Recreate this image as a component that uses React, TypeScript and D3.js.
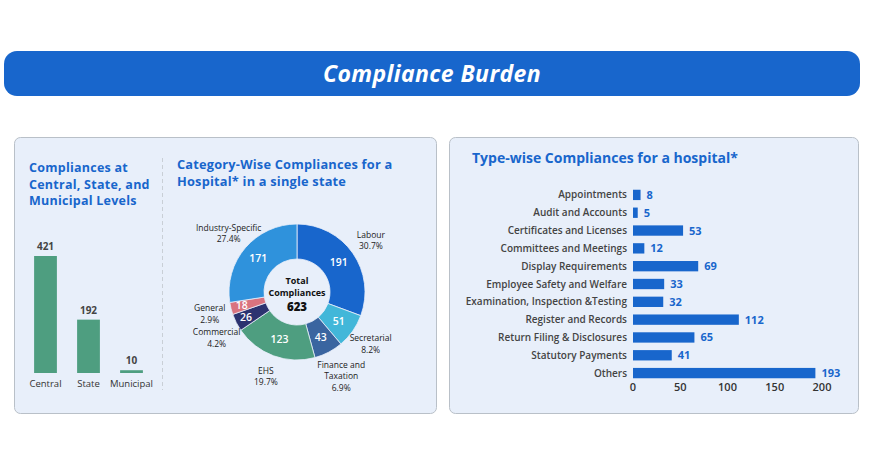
import * as d3 from "d3";

// level-wise counts
const levels = ["Central", "State", "Municipal"];
const levelCounts = [421, 192, 10];

// category-wise split for a hospital in one state
const categories = [
  "Labour",
  "Secretarial",
  "Finance and Taxation",
  "EHS",
  "Commercial",
  "General",
  "Industry-Specific",
];
const categoryCounts = [191, 51, 43, 123, 26, 18, 171];
const categoryLabelLines = [
  ["Labour"],
  ["Secretarial"],
  ["Finance and", "Taxation"],
  ["EHS"],
  ["Commercial"],
  ["General"],
  ["Industry-Specific"],
];
const categoryColors = [
  "#1866CC",
  "#42B7D9",
  "#3A65A0",
  "#4E9E80",
  "#2C3370",
  "#D9737F",
  "#2F92DC",
];

// type-wise counts
const types = [
  "Appointments",
  "Audit and Accounts",
  "Certificates and Licenses",
  "Committees and Meetings",
  "Display Requirements",
  "Employee Safety and Welfare",
  "Examination, Inspection &Testing",
  "Register and Records",
  "Return Filing & Disclosures",
  "Statutory Payments",
  "Others",
];
const typeCounts = [8, 5, 53, 12, 69, 33, 32, 112, 65, 41, 193];
const typeTicks = [0, 50, 100, 150, 200];

const W = 874;
const H = 476;
const FONT = "'Open Sans', 'DejaVu Sans', sans-serif";
const BLUE = "#1866CC";
const PANEL = "#E8EFFA";

function LevelBars() {
  const x = d3
    .scaleBand<string>()
    .domain(levels)
    .range([24, 153])
    .paddingInner(0.47)
    .paddingOuter(0.235);
  const y = d3.scaleLinear().domain([0, 421]).range([373, 256]);
  return (
    <g>
      <text fill={BLUE} fontSize={12.5} fontWeight={700} letterSpacing={0.25}>
        {["Compliances at", "Central, State, and", "Municipal Levels"].map((t, i) => (
          <tspan key={t} x={29} y={172 + i * 16.5}>
            {t}
          </tspan>
        ))}
      </text>
      {levels.map((l, i) => (
        <g key={l}>
          <rect
            x={x(l)}
            y={y(levelCounts[i])}
            width={x.bandwidth()}
            height={y(0) - y(levelCounts[i])}
            fill="#4E9E80"
          />
          <text
            x={x(l)! + x.bandwidth() / 2}
            y={y(levelCounts[i]) - 6}
            textAnchor="middle"
            fontSize={10}
            fontWeight={700}
            fill="#444"
          >
            {levelCounts[i]}
          </text>
          <text
            x={x(l)! + x.bandwidth() / 2}
            y={387}
            textAnchor="middle"
            fontSize={9.5}
            fontWeight={500}
            fill="#333"
          >
            {l}
          </text>
        </g>
      ))}
      <line x1={162.5} x2={162.5} y1={158} y2={390} stroke="#C9CFD6" strokeDasharray="4,3" />
    </g>
  );
}

function CategoryDonut() {
  const cx = 297;
  const cy = 292;
  const total = d3.sum(categoryCounts);
  const pie = d3.pie<number>().sort(null).value((d) => d);
  const arcs = pie(categoryCounts);
  const arc = d3.arc<d3.PieArcDatum<number>>().innerRadius(33).outerRadius(68);
  const lineH = 11.5;

  // outside labels along each slice's mid angle, then pushed apart on each side
  const labels = arcs.map((a, i) => {
    const mid = (a.startAngle + a.endAngle) / 2;
    const lines = [...categoryLabelLines[i], ((categoryCounts[i] / total) * 100).toFixed(1) + "%"];
    const r = 90 + (lines.length - 2) * 5;
    return {
      lines,
      x: Math.sin(mid) * r,
      cy: -Math.cos(mid) * r,
      h: lines.length * lineH,
      left: Math.sin(mid) < 0,
    };
  });
  [true, false].forEach((side) => {
    const group = labels.filter((l) => l.left === side).sort((a, b) => a.cy - b.cy);
    for (let k = 1; k < group.length; k++) {
      const prev = group[k - 1];
      const cur = group[k];
      const minGap = (prev.h + cur.h) / 2 + 1;
      if (cur.cy - prev.cy < minGap) cur.cy = prev.cy + minGap;
    }
  });

  // small slices get their value a little further out
  const valuePos = (a: d3.PieArcDatum<number>) => {
    const share = (a.endAngle - a.startAngle) / (2 * Math.PI);
    const r = share < 0.05 ? 57 : 51;
    const mid = (a.startAngle + a.endAngle) / 2;
    return [Math.sin(mid) * r, -Math.cos(mid) * r];
  };

  return (
    <g>
      <text fill={BLUE} fontSize={12.8} fontWeight={700} letterSpacing={0.2}>
        {["Category-Wise Compliances for a", "Hospital* in a single state"].map((t, i) => (
          <tspan key={t} x={177} y={169 + i * 17}>
            {t}
          </tspan>
        ))}
      </text>
      <g transform={`translate(${cx},${cy})`}>
        {arcs.map((a, i) => {
          const [mx, my] = valuePos(a);
          const lab = labels[i];
          const top = lab.cy - lab.h / 2 + lineH / 2 + 3;
          return (
            <g key={categories[i]}>
              <path d={arc(a)!} fill={categoryColors[i]} stroke={PANEL} strokeWidth={0.8} />
              <text
                x={mx}
                y={my + 3.5}
                textAnchor="middle"
                fontSize={10.5}
                fontWeight={600}
                fill="#fff"
              >
                {categoryCounts[i]}
              </text>
              <text textAnchor="middle" fontSize={8.5} fill="#222">
                {lab.lines.map((t, j) => (
                  <tspan key={j} x={lab.x} y={top + j * lineH}>
                    {t}
                  </tspan>
                ))}
              </text>
            </g>
          );
        })}
        <text textAnchor="middle" fontSize={9} fontWeight={700} fill="#111">
          <tspan x={0} y={-8}>Total</tspan>
          <tspan x={0} y={4}>Compliances</tspan>
        </text>
        <text x={0} y={19} textAnchor="middle" fontSize={11.5} fontWeight={800} fill="#111">
          {total}
        </text>
      </g>
    </g>
  );
}

function TypeBars() {
  const x = d3.scaleLinear().domain([0, 200]).range([633, 822]);
  const y = d3
    .scaleBand<string>()
    .domain(types)
    .range([186, 382])
    .paddingInner(0.42)
    .paddingOuter(0.21);
  return (
    <g>
      <text x={472} y={163} fill={BLUE} fontSize={14} fontWeight={700}>
        Type-wise Compliances for a hospital*
      </text>
      {types.map((t, i) => {
        const cy = y(t)! + y.bandwidth() / 2;
        return (
          <g key={t}>
            <text
              x={627}
              y={cy + 3.5}
              textAnchor="end"
              fontSize={10}
              fontWeight={600}
              fill="#444"
            >
              {t}
            </text>
            <rect
              x={x(0)}
              y={y(t)}
              width={x(typeCounts[i]) - x(0)}
              height={y.bandwidth()}
              fill={BLUE}
            />
            <text
              x={x(typeCounts[i]) + 6}
              y={cy + 4}
              fontSize={11}
              fontWeight={700}
              fill={BLUE}
            >
              {typeCounts[i]}
            </text>
          </g>
        );
      })}
      {typeTicks.map((v) => (
        <text
          key={v}
          x={x(v)}
          y={391}
          textAnchor="middle"
          fontSize={11}
          fontWeight={600}
          fill="#333"
        >
          {v}
        </text>
      ))}
    </g>
  );
}

export default function App() {
  return (
    <div style={{ position: "absolute", left: 0, top: 0 }}>
      <svg width={W} height={H} style={{ display: "block", fontFamily: FONT }}>
        <rect width={W} height={H} fill="#fff" />
        <rect x={4} y={51} width={856} height={45} rx={13} fill={BLUE} />
        <text
          x={432}
          y={82}
          textAnchor="middle"
          fill="#fff"
          fontSize={23}
          fontWeight={700}
          fontStyle="italic"
          letterSpacing={0.4}
        >
          Compliance Burden
        </text>
        <rect x={14.5} y={137.5} width={422} height={276} rx={6} fill={PANEL} stroke="#B9C0C8" />
        <rect x={449.5} y={137.5} width={409} height={276} rx={6} fill={PANEL} stroke="#B9C0C8" />
        <LevelBars />
        <CategoryDonut />
        <TypeBars />
      </svg>
    </div>
  );
}
